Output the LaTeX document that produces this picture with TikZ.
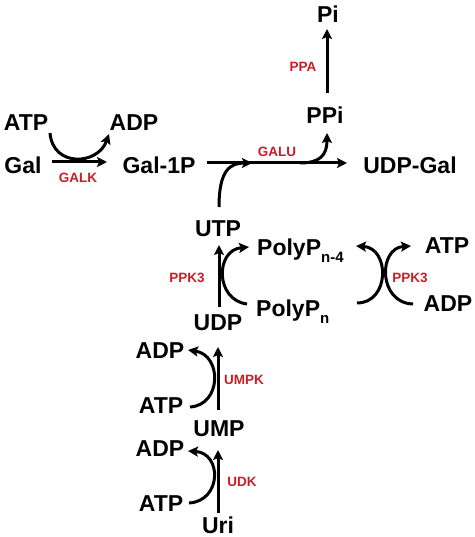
\documentclass[tikz,border=0pt]{standalone}
\usepackage{fontspec}
\setmainfont{Liberation Sans}
\usetikzlibrary{arrows.meta,calc}
\definecolor{enz}{RGB}{200,30,38}
\newcommand{\subtxt}[1]{\raisebox{-7pt}{\fontsize{15}{15}\selectfont #1}}
\begin{document}
\begin{tikzpicture}[x=1pt,y=-1pt,
  met/.style={font=\fontsize{23}{25}\selectfont\bfseries, inner sep=0pt, text height=16.5pt, text depth=0pt},
  enzyme/.style={font=\fontsize{13.5}{14}\selectfont\bfseries, text=enz, inner sep=0pt, text height=9.7pt, text depth=0pt},
  arr/.style={line width=3pt, -{Stealth[length=10pt,width=10pt,inset=2pt]}},
  ln/.style={line width=3pt}]
\useasboundingbox (0,0) rectangle (474,537);
% metabolites
\node[met] (ATP1) at (26,122) {ATP};
\node[met] (ADP1) at (134,122) {ADP};
\node[met] (Gal) at (23,165) {Gal};
\node[met] (Gal1P) at (159,165) {Gal-1P};
\node[met] (Pi) at (328,14) {Pi};
\node[met] (PPi) at (325,115) {PPi};
\node[met] (UDPGal) at (410,165) {UDP-Gal};
\node[met] (UTP) at (218,228) {UTP};
\node[met, anchor=west] (PolyPn4) at (257,247) {PolyP\subtxt{n-4}};
\node[met, anchor=west] (PolyPn) at (256,308) {PolyP\subtxt{n}};
\node[met] (ATP2) at (447,245) {ATP};
\node[met] (ADP2) at (448,303) {ADP};
\node[met] (UDP) at (218,322) {UDP};
\node[met] (ADP3) at (160,350) {ADP};
\node[met] (ATP3) at (161,405) {ATP};
\node[met] (UMP) at (219,428) {UMP};
\node[met] (ADP4) at (160,448) {ADP};
\node[met] (ATP4) at (161,503) {ATP};
\node[met] (Uri) at (218,525) {Uri};
% enzymes
\node[enzyme] (GALK) at (78,178) {GALK};
\node[enzyme] (GALU) at (277,152) {GALU};
\node[enzyme] (PPA) at (303,67) {PPA};
\node[enzyme] (PPK3a) at (187,278) {PPK3};
\node[enzyme] (PPK3b) at (410,278) {PPK3};
\node[enzyme] (UMPK) at (244,380) {UMPK};
\node[enzyme] (UDK) at (242,482) {UDK};
% GALK
\draw[arr] ($(Gal)+(29,-3)$) -- ($(Gal1P)+(-52,-3)$);
\draw[arr] ($(ATP1)+(24,11)$) .. controls ($(ATP1)+(27,46)$) and ($(ADP1)+(-36,43)$) .. ($(ADP1)+(-25,12)$);
% GALU
\draw[arr] ($(Gal1P)+(48,-2)$) -- ($(UDPGal)+(-63,-2)$);
\draw[arr] ($(UTP)+(1,-21)$) .. controls ($(UTP)+(1,-58)$) and ($(UTP)+(12,-65)$) .. ($(UTP)+(34,-65)$);
\draw[arr] ($(PPi)+(-25,48)$) .. controls ($(PPi)+(-5,48)$) and ($(PPi)+(2,40)$) .. ($(PPi)+(2,18)$);
% PPA
\draw[arr] ($(PPi)+(2,-22)$) -- ($(Pi)+(-1,15)$);
% PPK3 left
\draw[arr] ($(UDP)+(1,-15)$) -- ($(UTP)+(1,17)$);
\draw[arr] ($(PolyPn.west)+(-9,-4)$) .. controls ($(PolyPn.west)+(-41,-8)$) and ($(PolyPn4.west)+(-42,3)$) .. ($(PolyPn4.west)+(-8,0)$);
% PPK3 right
\draw[arr] ($(PolyPn.west)+(101,-5)$) .. controls ($(PolyPn.west)+(134,-5)$) and ($(PolyPn4.west)+(133,1)$) .. ($(PolyPn4.west)+(99,-1)$);
\draw[arr] ($(ADP2)+(-35,1)$) .. controls ($(ADP2)+(-70,0)$) and ($(ATP2)+(-69,3)$) .. ($(ATP2)+(-36,1)$);
% UMPK
\draw[arr] ($(UMP)+(-1,-18)$) -- ($(UDP)+(0,25)$);
\draw[arr] ($(ATP3)+(29,2)$) .. controls ($(ATP3)+(61,0)$) and ($(ADP3)+(62,5)$) .. ($(ADP3)+(28,0)$);
% UDK
\draw[arr] ($(Uri)+(0,-12)$) -- ($(UMP)+(-1,22)$);
\draw[arr] ($(ATP4)+(28,0)$) .. controls ($(ATP4)+(61,-2)$) and ($(ADP4)+(62,5)$) .. ($(ADP4)+(28,3)$);
\end{tikzpicture}
\end{document}
